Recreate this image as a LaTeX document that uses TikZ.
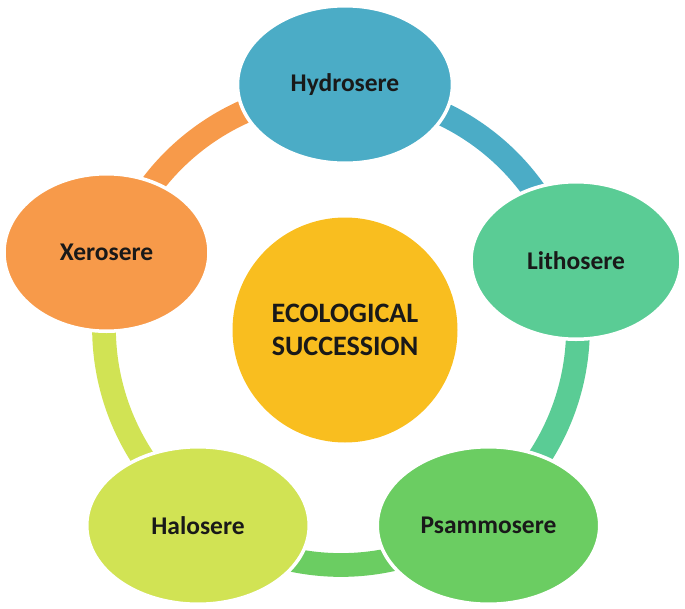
\documentclass[tikz,border=0pt]{standalone}
\usepackage{fontspec}
\setmainfont{Carlito}
\usepackage{tikz}
\usetikzlibrary{shapes.geometric,calc}
\definecolor{hydcol}{HTML}{4BACC6}
\definecolor{litcol}{HTML}{5ACC95}
\definecolor{psacol}{HTML}{6BCD62}
\definecolor{halcol}{HTML}{D1E354}
\definecolor{xercol}{HTML}{F79A4A}
\definecolor{ctrcol}{HTML}{F9BE1F}

\begin{document}
\begin{tikzpicture}[
  sere/.style={
    ellipse, draw=white, line width=2pt,
    minimum width=4.3cm, minimum height=3.15cm,
    font=\fontsize{14.5}{17}\selectfont\bfseries, text=black!90
  },
  core/.style={
    circle, fill=ctrcol, minimum size=4.5cm, align=center,
    font=\fontsize{16}{19}\selectfont\bfseries, text=black!90
  },
  seg/.style={line width=13.5pt, line cap=butt}
]
  \useasboundingbox (0,0) rectangle (13.7,-12.18);

  % ring around the middle
  \coordinate (ring) at (6.82,-6.56);
  \coordinate (r1) at ($(ring)+(89:4.74)$);
  \coordinate (r2) at ($(ring)+(16:4.74)$);
  \coordinate (r3) at ($(ring)+(-53:4.74)$);
  \coordinate (r4) at ($(ring)+(-126:4.74)$);
  \coordinate (r5) at ($(ring)+(161.5:4.74)$);

  \draw[seg, hydcol] (r1) arc[start angle=89, end angle=16, radius=4.74];
  \draw[seg, litcol] (r2) arc[start angle=16, end angle=-53, radius=4.74];
  \draw[seg, psacol] (r3) arc[start angle=-53, end angle=-126, radius=4.74];
  \draw[seg, halcol] (r4) arc[start angle=-126, end angle=-198.5, radius=4.74];
  \draw[seg, xercol] (r5) arc[start angle=161.5, end angle=89, radius=4.74];

  \node[core] (eco) at (6.90,-6.60) {ECOLOGICAL\\SUCCESSION};

  \node[sere, fill=hydcol] (hyd) at (6.90,-1.69) {Hydrosere};
  \node[sere, fill=litcol, minimum width=4.2cm] (lit) at (11.52,-5.21) {Lithosere};
  \node[sere, fill=psacol, minimum width=4.45cm] (psa) at (9.77,-10.51) {Psammosere};
  \node[sere, fill=halcol, minimum width=4.45cm] (hal) at (3.96,-10.51) {Halosere};
  \node[sere, fill=xercol, minimum width=4.1cm] (xer) at (2.13,-5.05) {Xerosere};
\end{tikzpicture}
\end{document}
